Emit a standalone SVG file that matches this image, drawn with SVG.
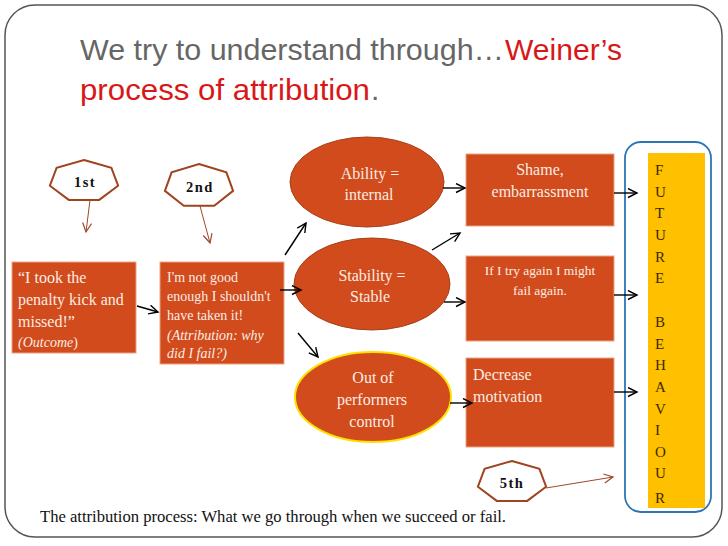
<svg xmlns="http://www.w3.org/2000/svg" width="728" height="546" viewBox="0 0 728 546">
<defs>
<marker id="ah" markerWidth="12" markerHeight="12" refX="10" refY="5" orient="auto" markerUnits="userSpaceOnUse">
<path d="M1,0.5 L10,5 L1,9.5" fill="none" stroke="#000" stroke-width="1.4"/>
</marker>
<marker id="ahb" markerWidth="12" markerHeight="12" refX="10" refY="5" orient="auto" markerUnits="userSpaceOnUse">
<path d="M1,0.5 L10,5 L1,9.5" fill="none" stroke="#A0472A" stroke-width="1.2"/>
</marker>
<style>
.box{fill:#D14B1C;stroke:#E9A383;stroke-width:1}
.ell{fill:#D14B1C;stroke:#A8401A;stroke-width:1}
.hep{fill:#fff;stroke:#A0431F;stroke-width:2}
.t{font-family:"Liberation Serif","Times New Roman",serif;fill:#FBEDE4}
.tc{text-anchor:middle}
.hl{font-family:"Liberation Serif","Times New Roman",serif;font-weight:bold;font-size:14.5px;fill:#111;text-anchor:middle;letter-spacing:1.5px}
.fut{font-family:"Liberation Serif","Times New Roman",serif;font-size:15px;fill:#3A2A00}
.c{fill:none;stroke:#000;stroke-width:1.4;marker-end:url(#ah)}
.cb{fill:none;stroke:#A0472A;stroke-width:1;marker-end:url(#ahb)}
</style>
</defs>
<rect x="5" y="5" width="717" height="532" rx="30" ry="30" fill="#fff" stroke="#555" stroke-width="1.5"/>
<g id="title" font-family="'Liberation Sans',Arial,sans-serif" font-size="30">
<text x="80" y="60" fill="#666" textLength="424" lengthAdjust="spacingAndGlyphs">We try to understand through…</text>
<text x="505" y="60" fill="#D81818" textLength="117" lengthAdjust="spacingAndGlyphs">Weiner’s</text>
<text x="80" y="100" fill="#D81818" textLength="290" lengthAdjust="spacingAndGlyphs">process of attribution</text>
<text x="371" y="100" fill="#666">.</text>
</g>
<g id="step1">
<polygon class="hep" points="84,160 111.4,167.9 118.1,185.7 99.2,199.9 68.8,199.9 49.9,185.7 56.6,167.9"/>
<text class="hl" x="85" y="187">1st</text>
</g>
<g id="step2">
<polygon class="hep" points="199,164 226.4,172.3 233.1,190.9 214.2,205.8 183.8,205.8 164.9,190.9 171.6,172.3"/>
<text class="hl" x="200" y="192">2nd</text>
</g>
<g id="step5">
<polygon class="hep" points="512,461 539.4,468.9 546.1,486.7 527.2,500.9 496.8,500.9 477.9,486.7 484.6,468.9"/>
<text class="hl" x="512" y="488">5th</text>
</g>
<g id="outcome">
<rect class="box" x="12" y="262" width="124" height="91"/>
<text class="t" font-size="16"><tspan x="18" y="283">“I took the</tspan><tspan x="18" y="305">penalty kick and</tspan><tspan x="18" y="327">missed!”</tspan><tspan x="18" y="347" font-size="14"><tspan font-style="italic">(Outcome</tspan>)</tspan></text>
</g>
<g id="attribution">
<rect class="box" x="160" y="262" width="124" height="102"/>
<text class="t" font-size="14"><tspan x="167" y="282">I'm not good</tspan><tspan x="167" y="301">enough I shouldn't</tspan><tspan x="167" y="320">have taken it!</tspan><tspan x="167" y="340" font-style="italic">(Attribution: why</tspan><tspan x="167" y="358" font-style="italic">did I fail?)</tspan></text>
</g>
<g id="ability">
<ellipse class="ell" cx="367" cy="182" rx="77" ry="45"/>
<text class="t tc" font-size="16"><tspan x="370" y="179">Ability =</tspan><tspan x="369" y="200">internal</tspan></text>
</g>
<g id="stability">
<ellipse class="ell" cx="372" cy="284" rx="78" ry="46"/>
<text class="t tc" font-size="16"><tspan x="372" y="281">Stability =</tspan><tspan x="370" y="302">Stable</tspan></text>
</g>
<g id="control">
<ellipse cx="373" cy="397" rx="78" ry="45" fill="#D14B1C" stroke="#FFE000" stroke-width="2"/>
<text class="t tc" font-size="16"><tspan x="373" y="383">Out of</tspan><tspan x="372" y="405">performers</tspan><tspan x="372" y="427">control</tspan></text>
</g>
<g id="shame">
<rect class="box" x="466" y="154" width="148" height="72"/>
<text class="t tc" font-size="16"><tspan x="540" y="175">Shame,</tspan><tspan x="540" y="197">embarrassment</tspan></text>
</g>
<g id="fail-again">
<rect class="box" x="466" y="256" width="148" height="85"/>
<text class="t tc" font-size="13.5"><tspan x="540" y="275">If I try again I might</tspan><tspan x="540" y="295">fail again.</tspan></text>
</g>
<g id="motivation">
<rect class="box" x="466" y="358" width="148" height="89"/>
<text class="t" font-size="16"><tspan x="473" y="380">Decrease</tspan><tspan x="473" y="402">motivation</tspan></text>
</g>
<g id="future">
<rect x="625" y="142" width="86" height="370" rx="16" ry="16" fill="#fff" stroke="#2E75B6" stroke-width="1.8"/>
<rect x="648" y="153" width="57" height="355" fill="#FFC000"/>
<text class="fut"><tspan x="655" y="175">F</tspan><tspan x="655" y="197">U</tspan><tspan x="655" y="218">T</tspan><tspan x="655" y="240">U</tspan><tspan x="655" y="262">R</tspan><tspan x="655" y="283">E</tspan><tspan x="655" y="327">B</tspan><tspan x="655" y="349">E</tspan><tspan x="655" y="370">H</tspan><tspan x="655" y="392">A</tspan><tspan x="655" y="414">V</tspan><tspan x="655" y="435">I</tspan><tspan x="655" y="457">O</tspan><tspan x="655" y="478">U</tspan><tspan x="655" y="503">R</tspan></text>
</g>
<g id="connectors">
<line class="cb" x1="90" y1="200" x2="86" y2="232"/>
<line class="cb" x1="200" y1="206" x2="210" y2="243"/>
<line class="cb" x1="546" y1="488" x2="613" y2="477"/>
<line class="c" x1="137" y1="306" x2="158" y2="312"/>
<line class="c" x1="285" y1="255" x2="306" y2="223"/>
<line class="c" x1="280" y1="290" x2="301" y2="290"/>
<line class="c" x1="298" y1="333" x2="318" y2="357"/>
<line class="c" x1="443" y1="188" x2="465" y2="188"/>
<line class="c" x1="432" y1="250" x2="460" y2="233"/>
<line class="c" x1="444" y1="302" x2="465" y2="302"/>
<line class="c" x1="450" y1="403" x2="472" y2="403"/>
<line class="c" x1="614" y1="193" x2="637" y2="193"/>
<line class="c" x1="614" y1="295" x2="637" y2="295"/>
<line class="c" x1="614" y1="392" x2="637" y2="392"/>
</g>
<text id="caption" x="40" y="522" font-family="'Liberation Serif','Times New Roman',serif" font-size="16" fill="#111" textLength="466" lengthAdjust="spacingAndGlyphs">The attribution process: What we go through when we succeed or fail.</text>
</svg>
